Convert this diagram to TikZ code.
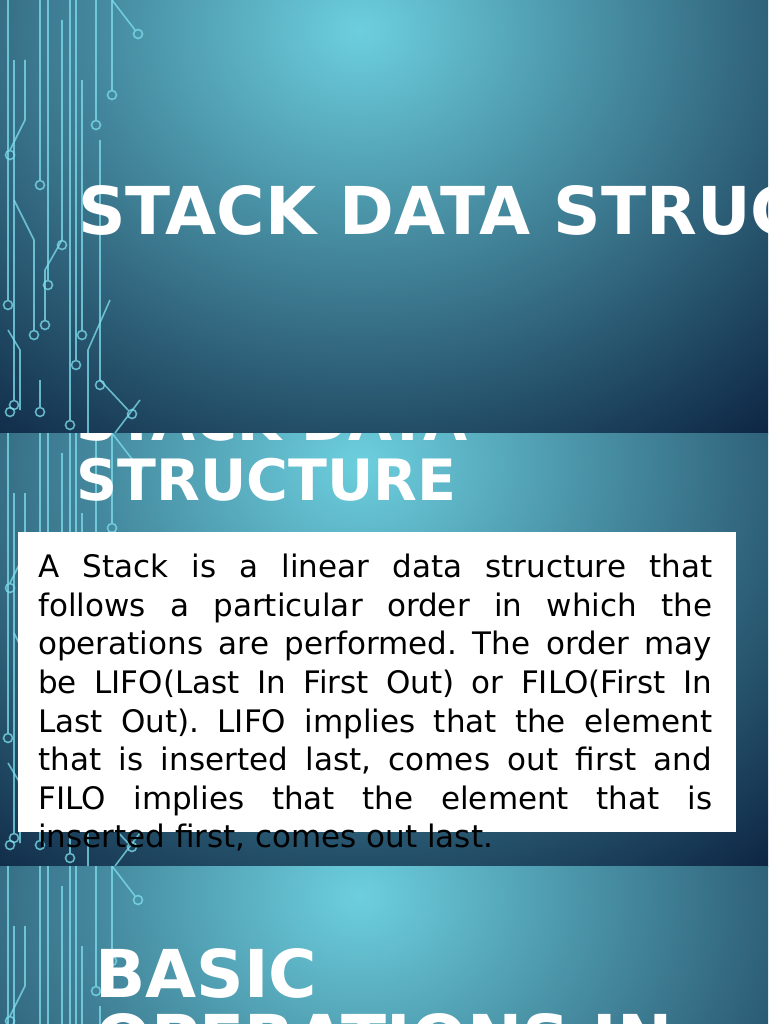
\documentclass[tikz,border=0pt]{standalone}
\usepackage{fontspec}
\setmainfont{DejaVu Sans}
\definecolor{lite}{HTML}{6CCFDE}
\definecolor{mid}{HTML}{2C9CBE}
\definecolor{dark}{HTML}{031433}
\definecolor{wire}{HTML}{7FE0F0}
\tikzset{wirel/.style={draw=wire,line width=1.6pt,opacity=0.75},
  pad/.style={draw=wire,line width=1.6pt,opacity=0.75,fill=none},
  ttl/.style={text=white,font=\bfseries\fontsize{66}{66}\selectfont,anchor=base west,inner sep=0pt},
  ttl2/.style={text=white,font=\bfseries\fontsize{57}{60}\selectfont,anchor=base west,inner sep=0pt}}
\newcommand{\slidebg}[1]{%
  \begin{scope}
  \clip (0,#1) rectangle (768,#1+433);
  \fill[mid] (0,#1) rectangle (768,#1+433);
  \shade[inner color=lite,outer color=dark] (360,#1+30) ellipse (700 and 580);
  \foreach \x/\a/\b in {8/0/300, 14/60/400, 40/0/180, 48/0/280, 62/20/240, 70/0/420, 76/0/360, 82/80/330, 96/0/120, 100/140/380, 112/0/90}{
    \draw[wirel] (\x,#1+\a) -- (\x,#1+\b);
    \draw[pad] (\x,#1+\b+5) circle (4.5);}
  \draw[wirel] (14,#1+200) -- (34,#1+240) -- (34,#1+330);
  \draw[pad] (34,#1+335) circle (4.5);
  \draw[wirel] (62,#1+240) -- (45,#1+270) -- (45,#1+320);
  \draw[pad] (45,#1+325) circle (4.5);
  \draw[wirel] (110,#1+300) -- (88,#1+350) -- (88,#1+433);
  \draw[wirel] (112,#1+0) -- (135,#1+30);
  \draw[pad] (138,#1+34) circle (4.5);
  \draw[wirel] (100,#1+380) -- (128,#1+410);
  \draw[pad] (132,#1+414) circle (4.5);
  \draw[wirel] (140,#1+400) -- (115,#1+433);
  \draw[wirel] (8,#1+330) -- (20,#1+350) -- (20,#1+410);
  \draw[pad] (10,#1+412) circle (4.5);
  \draw[pad] (40,#1+412) circle (4.5);
  \draw[wirel] (40,#1+380) -- (40,#1+407);
  \draw[wirel] (25,#1+60) -- (25,#1+120) -- (10,#1+150);
  \draw[pad] (10,#1+155) circle (4.5);
  \end{scope}}
\begin{document}
\begin{tikzpicture}[x=1pt,y=-1pt]
\useasboundingbox (0,0) rectangle (768,1024);
\slidebg{0}
\slidebg{433}
\slidebg{866}
\begin{scope}
\clip (0,0) rectangle (768,433);
\node[ttl] (t1) at (78,235) {STACK DATA STRUCTURE};
\end{scope}
\begin{scope}
\clip (0,433) rectangle (768,866);
\node[ttl2] (t2) at (76,500) {STRUCTURE};
\node[ttl2] (t2a) at (76,440) {STACK DATA};
\fill[white] (18,532) rectangle (736,832);
\node[anchor=north west,inner sep=0pt,text width=674pt,align=justify,
  font=\fontsize{31}{38.6}\selectfont] (body) at (38,554)
 {\frenchspacing A Stack is a linear data structure that\linebreak follows a particular order in which the\linebreak operations are performed. The order may\linebreak be LIFO(Last In First Out) or FILO(First In\linebreak Last Out). LIFO implies that the element\linebreak that is inserted last, comes out first and\linebreak FILO implies that the element that is\linebreak inserted first, comes out last.\par};
\end{scope}
\begin{scope}
\clip (0,866) rectangle (768,1024);
\node[ttl] (t3) at (95,997) {BASIC};
\node[ttl] (t3a) at (95,1062) {OPERATIONS IN};
\end{scope}
\end{tikzpicture}
\end{document}
